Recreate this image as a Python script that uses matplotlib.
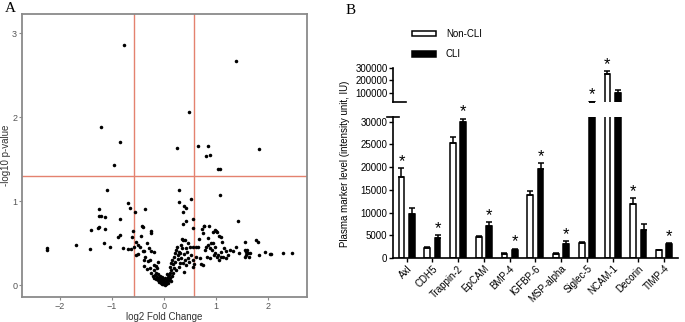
import matplotlib
matplotlib.use("Agg")
import matplotlib.pyplot as plt
from matplotlib.patches import Patch

plt.rcParams['font.family'] = ['Liberation Sans', 'DejaVu Sans']

# ---------------- Panel A data (volcano) ----------------
fc_x = [-0.76, 1.38, 0.48, -1.21, -0.85, -0.96, 0.25, 0.66, 0.85, 0.80, 0.88, 1.03, 1.07, 1.82,
        -1.10, 0.28, 1.07, 0.51, 0.29, -0.69, -0.66, -1.25, -0.37, 0.38, 0.42, 0.36, -0.55, 1.42,
        -1.24, -1.21, -1.13, -0.85, 0.55, 0.43, 0.37, -1.41, -1.27, -1.25, -1.13, 0.55, -0.42, -0.41,
        -0.25, -0.25, -0.59, -0.61, -0.89, -0.85, -1.03, -1.15, -0.79, -0.70, -0.64, -1.43, -1.70,
        -2.25, -2.25,
        -0.54, -0.49, -0.58, -0.45, -0.46, -0.41, -0.38, -0.54, -0.50, -0.33, -0.29, -0.24, -0.20,
        -0.36, -0.39, -0.30, -0.27, -0.38, -0.33, -0.19, -0.15, -0.11,
        -0.24, -0.22, -0.20, -0.18, -0.16, -0.15, -0.13, -0.12, -0.11, -0.10, -0.09, -0.08, -0.07,
        -0.06, -0.05, -0.04, -0.03, -0.02, -0.01, 0.00, 0.01, 0.02, 0.03, 0.04, 0.05, 0.06, 0.07,
        0.08, 0.09, 0.10, 0.11, 0.12, 0.13, 0.14, 0.15, -0.19, -0.26, -0.14, 0.00, -0.03, 0.06, 0.02,
        0.12, 0.14, 0.16, 0.18, 0.19, 0.20, 0.21, 0.22, 0.24, 0.25, 0.26, 0.27, 0.28, 0.29, 0.30,
        0.31, 0.32, 0.33, 0.34, 0.35, 0.36, 0.37, 0.38, 0.39, 0.40, 0.41, 0.42, 0.43, 0.44, 0.46,
        0.47, 0.48, 0.50, 0.52, 0.55, 0.56, 0.56, 0.58, 0.17, 0.23,
        0.62, 0.65, 0.68, 0.73, 0.75, 0.76, 0.80, 0.84, 0.88, 0.90, 0.94, 0.98, 1.00, 1.02, 1.06,
        1.09, 1.12, 1.16, 1.20, 0.62, 0.69, 0.72, 0.75, 0.82, 0.88, 0.98, 1.01, 1.04, 1.10, 1.13,
        1.20, 0.78, 0.84, 0.92, 0.96, 1.06, 0.77, 0.87, 0.95, 0.99,
        1.55, 1.77, 1.80, 1.26, 1.32, 1.39, 1.44, 1.55, 1.57, 1.58, 1.61, 1.63, 1.66, 1.56, 1.60,
        1.82, 1.95, 2.03, 2.06, 2.29, 2.46, 1.10, 1.24]
fc_y = [2.86, 2.67, 2.06, 1.89, 1.71, 1.43, 1.64, 1.66, 1.66, 1.54, 1.55, 1.38, 1.38, 1.62,
        1.14, 1.14, 1.07, 1.03, 0.99, 0.98, 0.92, 0.91, 0.91, 0.94, 0.92, 0.87, 0.87, 0.77,
        0.83, 0.83, 0.81, 0.79, 0.79, 0.76, 0.73, 0.66, 0.68, 0.69, 0.67, 0.68, 0.70, 0.69,
        0.65, 0.62, 0.65, 0.58, 0.58, 0.60, 0.45, 0.50, 0.44, 0.43, 0.43, 0.43, 0.48,
        0.44, 0.42,
        0.52, 0.48, 0.46, 0.59, 0.46, 0.41, 0.41, 0.36, 0.37, 0.50, 0.44, 0.41, 0.40,
        0.34, 0.30, 0.29, 0.30, 0.23, 0.19, 0.24, 0.23, 0.28,
        0.14, 0.11, 0.09, 0.12, 0.15, 0.08, 0.10, 0.13, 0.06, 0.09, 0.04, 0.07, 0.11,
        0.05, 0.03, 0.08, 0.02, 0.05, 0.01, 0.03, 0.00, 0.02, 0.05, 0.01, 0.04, 0.07, 0.03,
        0.10, 0.06, 0.12, 0.09, 0.15, 0.05, 0.18, 0.11, 0.18, 0.20, 0.20, 0.07, 0.10, 0.13, 0.09,
        0.22, 0.26, 0.30, 0.25, 0.20, 0.34, 0.38, 0.28, 0.42, 0.46, 0.31, 0.36, 0.22, 0.40, 0.27,
        0.38, 0.48, 0.33, 0.55, 0.44, 0.26, 0.54, 0.37, 0.16, 0.54, 0.30, 0.44, 0.24, 0.40, 0.50,
        0.33, 0.28, 0.45, 0.36, 0.30, 0.22, 0.46, 0.25, 0.15, 0.18,
        0.46, 0.46, 0.55, 0.67, 0.62, 0.70, 0.46, 0.48, 0.44, 0.50, 0.50, 0.46, 0.65, 0.63, 0.59,
        0.57, 0.52, 0.44, 0.41, 0.34, 0.33, 0.25, 0.24, 0.34, 0.33, 0.38, 0.34, 0.36, 0.40, 0.34,
        0.33, 0.42, 0.56, 0.42, 0.36, 0.30, 0.71, 0.71, 0.63, 0.66,
        0.52, 0.54, 0.52, 0.42, 0.41, 0.46, 0.38, 0.42, 0.40, 0.36, 0.38, 0.34, 0.38, 0.34, 0.42,
        0.36, 0.40, 0.37, 0.37, 0.38, 0.38, 0.34, 0.36]

fc_cut = [-0.585, 0.585]
p_cut = 1.301

# ---------------- Panel B data (bars) ----------------
categories = ['Axl', 'CDH5', 'Trappin-2', 'EpCAM', 'BMP-4', 'IGFBP-6', 'MSP-alpha',
              'Siglec-5', 'NCAM-1', 'Decorin', 'TIMP-4']
noncli = [17700, 2200, 25200, 4600, 950, 13900, 880, 3300, 248000, 11900, 1700]
noncli_err = [2150, 250, 1300, 300, 150, 850, 130, 250, 27000, 1300, 150]
cli = [9700, 4400, 29900, 7100, 1800, 19600, 3000, 32000, 104000, 6100, 3050]
cli_err = [1400, 700, 750, 800, 280, 1350, 650, 1500, 22000, 1300, 230]
sig_noncli = [True, False, False, False, False, False, False, False, True, True, False]
sig_cli = [False, True, True, True, True, True, True, True, False, False, True]
lower_ticks = [0, 5000, 10000, 15000, 20000, 25000, 30000]
upper_ticks = [100000, 200000, 300000]
lower_range = (0, 31000)
upper_range = (30000, 300000)

W, H = 685, 322
fig = plt.figure(figsize=(W / 100, H / 100), dpi=100)

def fx(px):
    return px / W

def fy(py):
    return 1 - py / H

# ---------------- Panel A ----------------
axA = fig.add_axes([fx(22), fy(297), fx(307) - fx(22), fy(14) - fy(297)])
axA.scatter(fc_x, fc_y, s=6.5, c='black', linewidths=0, zorder=3)
red = '#e4826f'
for v in fc_cut:
    axA.axvline(v, color=red, lw=1.0, zorder=2)
axA.axhline(p_cut, color=red, lw=1.0, zorder=2)
axA.set_xlim(-2.73, 2.75)
axA.set_ylim(-0.14, 3.23)
axA.set_xticks([-2, -1, 0, 1, 2])
axA.set_yticks([0, 1, 2, 3])
for s in axA.spines.values():
    s.set_color('#8a8a8a')
    s.set_linewidth(1.3)
axA.tick_params(colors='#8a8a8a', labelcolor='#555555', labelsize=6.5, length=2.5, width=0.8, pad=1.0)
axA.set_xlabel('log2 Fold Change', fontsize=7, color='#333333', labelpad=0.5)
axA.set_ylabel('-log10 p-value', fontsize=7, color='#333333', labelpad=0.5)
fig.text(fx(5), fy(9), 'A', fontsize=11, family='Liberation Serif', va='center', ha='left')
fig.text(fx(346), fy(11), 'B', fontsize=11, family='Liberation Serif', va='center', ha='left')

# ---------------- Panel B ----------------
left, right = 393, 678
axL = fig.add_axes([fx(left), fy(258), fx(right) - fx(left), fy(117) - fy(258)])
axU = fig.add_axes([fx(left), fy(102), fx(right) - fx(left), fy(67.7) - fy(102)])
x = list(range(len(categories)))
off = 0.2
bw = 0.22
xw = [i - off for i in x]
xb = [i + off for i in x]

def draw(ax, xs, vals, errs, face, lo):
    idx = [k for k in range(len(vals)) if vals[k] > lo]
    if not idx:
        return
    xs_ = [xs[k] for k in idx]
    v_ = [vals[k] for k in idx]
    e_ = [errs[k] for k in idx]
    ax.bar(xs_, v_, width=bw, color=face, edgecolor='black', linewidth=1.1, zorder=2)
    ax.errorbar(xs_, v_, yerr=[[0] * len(v_), e_], fmt='none', ecolor='black',
                elinewidth=1.1, capsize=2.2, capthick=1.1, zorder=3)

for ax, lo in ((axL, -1), (axU, upper_range[0])):
    draw(ax, xw, noncli, noncli_err, 'white', lo)
    draw(ax, xb, cli, cli_err, 'black', lo)
    ax.set_xlim(-0.53, 10.54)
    for sp in ('top', 'right'):
        ax.spines[sp].set_visible(False)
    ax.spines['left'].set_linewidth(1.2)
    ax.tick_params(labelsize=7, length=3, width=1.0, pad=1)

axL.set_ylim(*lower_range)
axL.set_yticks(lower_ticks)
axL.set_xticks(x)
axL.set_xticklabels(categories, rotation=45, ha='right', rotation_mode='anchor', fontsize=7)
axL.spines['bottom'].set_linewidth(1.2)
axU.set_ylim(*upper_range)
axU.set_yticks(upper_ticks)
axU.spines['bottom'].set_visible(False)
axU.set_xticks([])

# break caps on the y spines
axU.plot([0, 0.045], [0, 0], transform=axU.transAxes, color='black', lw=1.2, clip_on=False)
axL.plot([-0.02, 0.02], [1, 1], transform=axL.transAxes, color='black', lw=1.2, clip_on=False)

# significance asterisks
for i in x:
    for flag, xv, val, err in ((sig_noncli[i], xw[i], noncli[i], noncli_err[i]),
                               (sig_cli[i], xb[i], cli[i], cli_err[i])):
        if flag:
            ax = axU if val > lower_range[1] else axL
            ax.annotate('*', (xv, val + err), xytext=(0, 1.5), textcoords='offset points',
                        ha='center', va='baseline', fontsize=12, annotation_clip=False)

fig.text(fx(345), fy(164), 'Plasma marker level (intensity unit, IU)', rotation=90,
         fontsize=7, ha='center', va='center')

handles = [Patch(facecolor='white', edgecolor='black', linewidth=1.1),
           Patch(facecolor='black', edgecolor='black', linewidth=1.1)]
fig.legend(handles, ['Non-CLI', 'CLI'], loc='upper left', bbox_to_anchor=(fx(408), fy(25)),
           frameon=False, fontsize=7, handlelength=2.5, handleheight=0.55,
           labelspacing=1.05, handletextpad=1.0, borderaxespad=0)

fig.savefig('out.png', dpi=100)
